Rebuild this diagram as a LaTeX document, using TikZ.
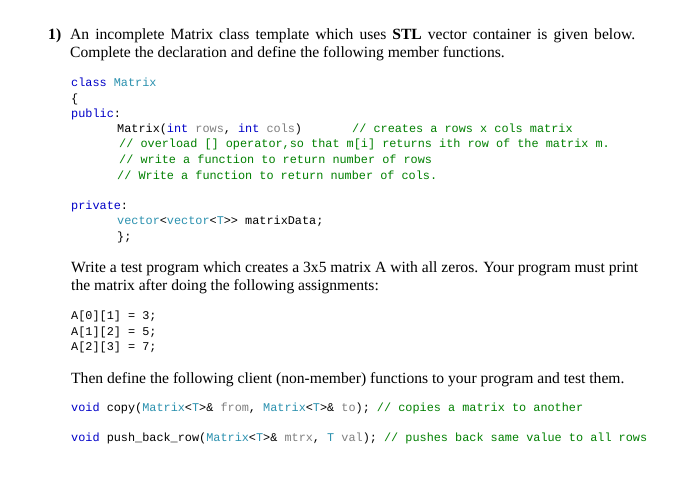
\documentclass[tikz,border=0pt]{standalone}
\usepackage{fontspec}
\setmainfont{Liberation Serif}
\newfontfamily\codefont{Liberation Mono}
\definecolor{kw}{RGB}{0,0,200}
\definecolor{ty}{RGB}{43,145,175}
\definecolor{pa}{RGB}{128,128,128}
\definecolor{cm}{RGB}{0,128,0}
\newcommand{\K}[1]{\textcolor{kw}{#1}}
\newcommand{\Ty}[1]{\textcolor{ty}{#1}}
\newcommand{\Pa}[1]{\textcolor{pa}{#1}}
\newcommand{\Cm}[1]{\textcolor{cm}{#1}}
\begin{document}
\begin{tikzpicture}[x=1pt,y=-1pt,
  txt/.style={anchor=base west,inner sep=0pt,font=\fontsize{15.6}{17}\selectfont},
  code/.style={anchor=base west,inner sep=0pt,font=\codefont\fontsize{11.85}{13}\selectfont}]
\fill[white] (0,0) rectangle (700,481);
\useasboundingbox (0,0) rectangle (700,481);
\node[txt] (t0) at (48,40) {\textbf{1)}};
\node[txt] (t1) at (70,40) {\makebox[565pt][s]{An incomplete Matrix class template which uses \textbf{STL} vector container is given below.}};
\node[txt] (t2) at (70,58) {Complete the declaration and define the following member functions.};
\node[code] (c1) at (71,87) {\K{class} \Ty{Matrix}};
\node[code] (c2) at (71,103) {\{};
\node[code] (c3) at (71,118) {\K{public}:};
\node[code] (c4) at (117,133) {Matrix(\K{int} \Pa{rows}, \K{int} \Pa{cols})};
\node[code] (c4b) at (352,133) {\Cm{// creates a rows x cols matrix}};
\node[code] (c5) at (119,148) {\Cm{// overload [] operator,so that m[i] returns ith row of the matrix m.}};
\node[code] (c6) at (119,163) {\Cm{// write a function to return number of rows}};
\node[code] (c7) at (117,179) {\Cm{// Write a function to return number of cols.}};
\node[code] (c8) at (71,209) {\K{private}:};
\node[code] (c9) at (117,224) {\Ty{vector}<\Ty{vector}<\Ty{T}>> matrixData;};
\node[code] (c10) at (117,240) {\};};
\node[txt] (t3) at (71,272) {Write a test program which creates a 3x5 matrix A with all zeros. Your program must print};
\node[txt] (t4) at (71,290) {the matrix after doing the following assignments:};
\node[code] (a1) at (71,319) {A[0][1] = 3;};
\node[code] (a2) at (71,335) {A[1][2] = 5;};
\node[code] (a3) at (71,350) {A[2][3] = 7;};
\node[txt] (t5) at (71,383) {Then define the following client (non-member) functions to your program and test them.};
\node[code] (f1) at (71,411) {\K{void} copy(\Ty{Matrix}<\Ty{T}>\& \Pa{from}, \Ty{Matrix}<\Ty{T}>\& \Pa{to}); \Cm{// copies a matrix to another}};
\node[code] (f2) at (71,441) {\K{void} push\_back\_row(\Ty{Matrix}<\Ty{T}>\& \Pa{mtrx}, \Ty{T} \Pa{val}); \Cm{// pushes back same value to all rows}};
\end{tikzpicture}
\end{document}
